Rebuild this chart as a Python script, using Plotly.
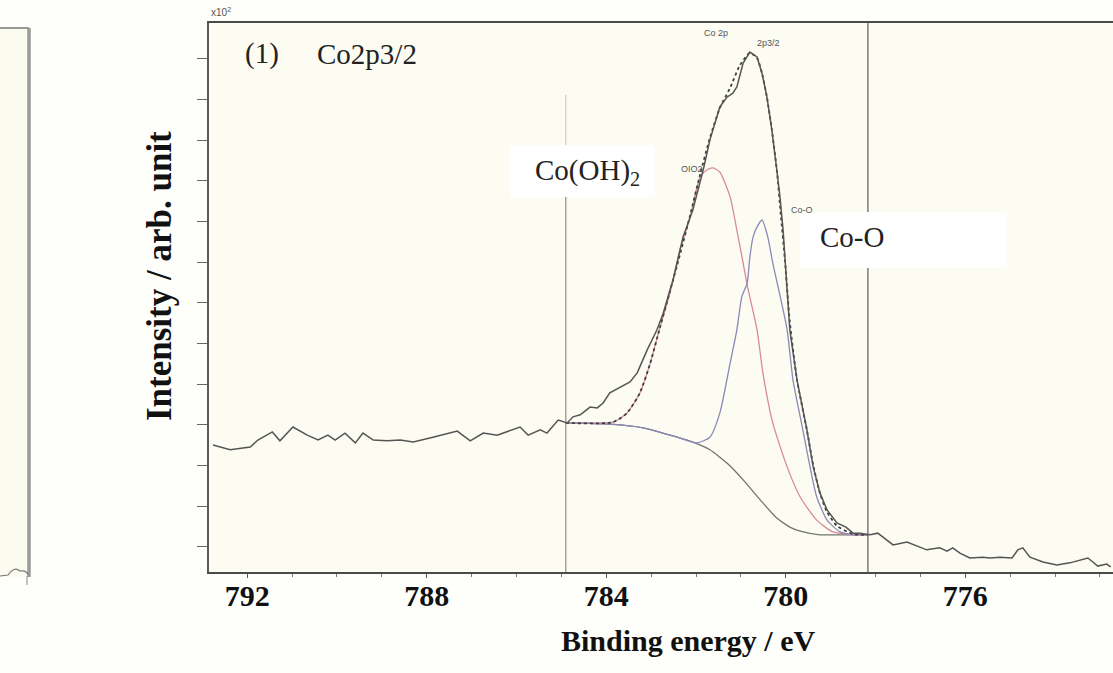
import plotly.graph_objects as go

# ---------------- data (binding energy in eV, intensity in x10^2 arb. units) -------------
raw_E = [792.76, 792.38, 791.93, 791.76, 791.44, 791.27, 790.98, 790.66, 790.42, 790.20,
         790.04, 789.82, 789.59, 789.42, 789.19, 788.88, 788.59, 788.30, 787.86, 787.32,
         787.03, 786.74, 786.43, 785.92, 785.74, 785.47, 785.32, 785.07, 784.87, 784.74,
         784.58, 784.36, 784.20, 784.07, 783.92, 783.69, 783.47, 783.31, 783.09, 782.87,
         782.73, 782.58, 782.51, 782.29, 782.07, 781.84, 781.69, 781.47, 781.31, 781.18,
         781.09, 780.95, 780.80, 780.64, 780.53, 780.42, 780.31, 780.20, 780.13, 780.06,
         779.99, 779.91, 779.75, 779.53, 779.39, 779.24, 779.08, 778.86, 778.66, 778.50,
         778.35, 778.12, 777.95, 777.75, 777.61, 777.30, 777.08, 776.86, 776.57, 776.41,
         776.28, 776.12, 775.90, 775.61, 775.45, 775.23, 774.96, 774.83, 774.72, 774.56,
         774.27, 773.96, 773.67, 773.45, 773.27, 773.16, 773.05, 772.85, 772.76]
raw_I = [2.51, 2.39, 2.46, 2.63, 2.83, 2.61, 2.95, 2.75, 2.63, 2.75,
         2.63, 2.80, 2.56, 2.80, 2.63, 2.61, 2.63, 2.58, 2.70, 2.85,
         2.61, 2.80, 2.75, 2.95, 2.75, 2.88, 2.80, 3.12, 3.05, 3.20,
         3.25, 3.44, 3.42, 3.54, 3.79, 3.93, 4.06, 4.28, 4.84, 5.34,
         5.75, 6.32, 6.57, 7.62, 8.29, 9.27, 10.01, 10.82, 11.06, 11.16,
         11.31, 11.90, 12.17, 12.05, 11.65, 11.06, 10.25, 9.27, 8.61, 7.79,
         6.57, 5.34, 4.11, 2.88, 1.97, 1.33, 0.91, 0.59, 0.49, 0.34,
         0.34, 0.30, 0.34, 0.17, 0.05, 0.12, 0.02, -0.07, -0.02, -0.10,
         -0.02, -0.15, -0.27, -0.25, -0.27, -0.25, -0.27, -0.07, -0.02, -0.25,
         -0.37, -0.44, -0.39, -0.32, -0.27, -0.37, -0.47, -0.42, -0.49]

bg_E = [784.90, 783.92, 783.18, 782.42, 782.07, 781.69, 781.24, 780.91, 780.57, 780.20,
        779.91, 779.68, 779.24, 778.68, 778.17]
bg_I = [3.05, 3.02, 2.93, 2.70, 2.58, 2.39, 1.99, 1.60, 1.16, 0.71,
        0.49, 0.39, 0.30, 0.30, 0.30]

coh_E = [784.90, 784.29, 783.85, 783.54, 783.25, 783.02, 782.80, 782.58, 782.36, 782.13,
         781.91, 781.76, 781.62, 781.47, 781.24, 781.09, 780.95, 780.86, 780.64, 780.51,
         780.29, 779.97, 779.68, 779.31, 778.95, 778.50, 778.17]
coh_I = [3.05, 3.05, 3.07, 3.29, 3.79, 4.52, 5.41, 6.25, 7.30, 8.11,
         9.10, 9.27, 9.32, 9.22, 8.61, 7.79, 6.98, 6.44, 5.34, 4.28,
         3.05, 1.97, 1.23, 0.66, 0.37, 0.30, 0.30]

coo_E = [784.90, 783.92, 783.18, 782.42, 781.98, 781.69, 781.47, 781.24, 781.09, 780.98,
         780.86, 780.80, 780.73, 780.64, 780.53, 780.40, 780.29, 780.18, 779.97, 779.84,
         779.62, 779.46, 779.31, 779.08, 778.79, 778.50, 778.17]
coo_I = [3.05, 3.02, 2.93, 2.70, 2.56, 2.70, 3.29, 4.52, 5.34, 6.15,
         6.49, 7.13, 7.62, 7.87, 8.04, 7.62, 6.98, 6.44, 5.34, 4.11,
         2.88, 1.97, 1.23, 0.66, 0.37, 0.30, 0.30]

env_E = [784.90, 783.85, 783.54, 783.25, 783.02, 782.80, 782.58, 782.36, 782.13, 781.91,
         781.69, 781.47, 781.24, 781.02, 780.80, 780.64, 780.53, 780.42, 780.31, 780.20,
         780.11, 780.02, 779.91, 779.75, 779.53, 779.39, 779.24, 779.08, 778.86, 778.50,
         778.17]
env_I = [3.05, 3.07, 3.29, 3.79, 4.52, 5.41, 6.29, 7.18, 8.16, 9.15,
         10.06, 10.79, 11.29, 11.85, 12.15, 12.02, 11.65, 11.06, 10.25, 9.27,
         8.16, 7.06, 5.53, 4.11, 2.88, 2.02, 1.33, 0.86, 0.52, 0.32,
         0.30]

x_tick_vals = [792, 788, 784, 780, 776]
x_tick_text = ["792", "788", "784", "780", "776"]
fit_limits = [784.9, 778.17]

# ---------------- figure ----------------
SERIF = "Liberation Serif, Times New Roman, serif"
fig = go.Figure()

fig.add_trace(go.Scatter(x=bg_E, y=bg_I, mode="lines", line=dict(color="#727272", width=1.3, shape="spline", smoothing=0.6), hoverinfo="skip"))
fig.add_trace(go.Scatter(x=coh_E, y=coh_I, mode="lines", line=dict(color="#d88a9c", width=1.3, shape="spline", smoothing=0.6), hoverinfo="skip"))
fig.add_trace(go.Scatter(x=coo_E, y=coo_I, mode="lines", line=dict(color="#8b88b8", width=1.3, shape="spline", smoothing=0.6), hoverinfo="skip"))
fig.add_trace(go.Scatter(x=env_E, y=env_I, mode="lines", line=dict(color="#3e3e3e", width=1.8, dash="dot", shape="spline", smoothing=0.6), hoverinfo="skip"))
fig.add_trace(go.Scatter(x=raw_E, y=raw_I, mode="lines", line=dict(color="#555555", width=1.5), hoverinfo="skip"))

W, H = 1113, 673
L, R, T, B = 209, 0, 23, 101
PW, PH = W - L - R, H - T - B

def px(xp):
    return (xp - L) / PW

def py(yp):
    return (H - B - yp) / PH

shapes = []
# fit region boundary lines
shapes.append(dict(type="line", xref="x", yref="paper", x0=fit_limits[0], x1=fit_limits[0], y0=py(95), y1=py(145),
                   line=dict(color="#c4c4c4", width=1), layer="below"))
shapes.append(dict(type="line", xref="x", yref="paper", x0=fit_limits[0], x1=fit_limits[0], y0=0, y1=py(197),
                   line=dict(color="#777777", width=1), layer="below"))
shapes.append(dict(type="line", xref="x", yref="paper", x0=fit_limits[1], x1=fit_limits[1], y0=0, y1=1,
                   line=dict(color="#666666", width=1.3), layer="below"))
# white label boxes
shapes.append(dict(type="rect", xref="paper", yref="paper", x0=px(510), x1=px(655), y0=py(197), y1=py(145),
                   fillcolor="#ffffff", line=dict(width=0), layer="below"))
shapes.append(dict(type="rect", xref="paper", yref="paper", x0=px(800), x1=px(1007), y0=py(268), y1=py(212),
                   fillcolor="#ffffff", line=dict(width=0), layer="below"))
# remnant of neighbouring panel at far left
shapes.append(dict(type="rect", xref="paper", yref="paper", x0=px(0), x1=px(29), y0=py(577), y1=py(28),
                   fillcolor="#fbfbef", line=dict(width=0)))
shapes.append(dict(type="line", xref="paper", yref="paper", x0=px(0), x1=px(29), y0=py(28), y1=py(28),
                   line=dict(color="#777777", width=1.5)))
shapes.append(dict(type="line", xref="paper", yref="paper", x0=px(29), x1=px(29), y0=py(577), y1=py(28),
                   line=dict(color="#9a9a9a", width=3.5)))
shapes.append(dict(type="line", xref="paper", yref="paper", x0=px(27), x1=px(27), y0=py(585), y1=py(576),
                   line=dict(color="#888888", width=1)))
shapes.append(dict(type="path", xref="paper", yref="paper",
                   path="M {0},{1} L {2},{3} Q {4},{5} {6},{7} Q {8},{9} {10},{11}".format(
                       px(0), py(576), px(8), py(575), px(14), py(566), px(20), py(571), px(27), py(570), px(28), py(575)),
                   line=dict(color="#777777", width=1.2)))

def label(text, x, y, font, **kw):
    d = dict(text=text, xref="paper", yref="paper", x=px(x), y=py(y), showarrow=False,
             xanchor="center", yanchor="middle", font=font)
    d.update(kw)
    return d

big = dict(family=SERIF, size=29, color="#222222")
small = dict(family="Liberation Sans, Arial", size=9, color="#555555")
ann = [
    label("x10<sup>2</sup>", 221, 12, dict(family="Liberation Sans, Arial", size=10, color="#555555")),
    label("(1)", 262, 54, big),
    label("Co2p3/2", 315, 54, big, xanchor="left"),
    label("Co(OH)<sub>2</sub>", 587, 172, big),
    label("Co-O", 852, 237, big),
    label("Co 2p", 716, 33, small),
    label("2p3/2", 768, 43, small),
    label("OIO2", 692, 169, small),
    label("Co-O", 802, 210, small),
    label("Binding energy / eV", 688, 640, dict(family=SERIF, size=30, color="#111111", weight="bold")),
    label("Intensity / arb. unit", 159, 276, dict(family=SERIF, size=35, color="#111111", weight="bold"),
          textangle=-90),
]

fig.update_layout(
    width=W, height=H,
    margin=dict(l=L, r=R, t=T, b=B, pad=0),
    paper_bgcolor="#fefefb",
    plot_bgcolor="#fcfcf3",
    showlegend=False,
    shapes=shapes,
    annotations=ann,
    xaxis=dict(range=[792.85, 772.71], tickmode="array", tickvals=x_tick_vals, ticktext=x_tick_text,
               ticks="outside", ticklen=4, tickcolor="#555555", tickwidth=1,
               minor=dict(dtick=1, tick0=776, ticks="outside", ticklen=3, tickcolor="#777777"),
               showline=True, linecolor="#4a4a4a", linewidth=2, mirror=True,
               showgrid=False, zeroline=False, ticklabelstandoff=-8,
               tickfont=dict(family=SERIF, size=30, color="#111111", weight="bold")),
    yaxis=dict(range=[-0.615, 12.884], tickmode="linear", tick0=0, dtick=1,
               ticks="outside", ticklen=10, tickcolor="#666666", tickwidth=1.2,
               showticklabels=False, showline=True, linecolor="#5a5a5a", linewidth=2, mirror=False,
               showgrid=False, zeroline=False),
)

fig.write_html("out.html")
